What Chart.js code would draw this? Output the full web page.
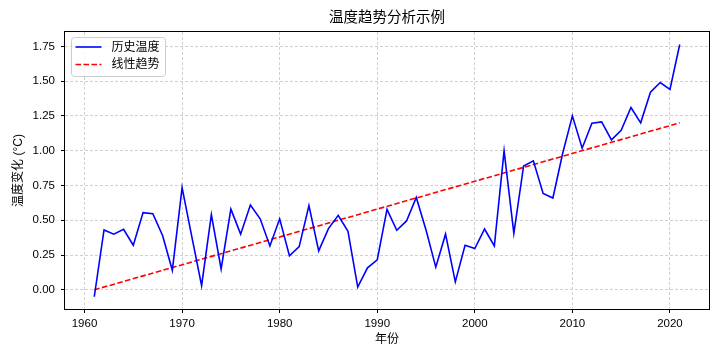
<!DOCTYPE html>
<html>
<head>
<meta charset="utf-8">
<script src="https://cdn.jsdelivr.net/npm/chart.js@4/dist/chart.umd.min.js"></script>
<style>
    html, body { margin: 0; padding: 0; background: #fff; }
    #wrap { width: 720px; height: 360px; }
</style>
</head>
<body>
<div id="wrap"><canvas id="myChart" width="720" height="360"></canvas></div>
<script>
"use strict";

const years = [1961, 1962, 1963, 1964, 1965, 1966, 1967, 1968, 1969, 1970,
    1971, 1972, 1973, 1974, 1975, 1976, 1977, 1978, 1979, 1980,
    1981, 1982, 1983, 1984, 1985, 1986, 1987, 1988, 1989, 1990,
    1991, 1992, 1993, 1994, 1995, 1996, 1997, 1998, 1999, 2000,
    2001, 2002, 2003, 2004, 2005, 2006, 2007, 2008, 2009, 2010,
    2011, 2012, 2013, 2014, 2015, 2016, 2017, 2018, 2019, 2020, 2021];

const temps = [-0.05, 0.43, 0.40, 0.435, 0.32, 0.555, 0.547, 0.39, 0.14, 0.735,
    0.38, 0.03, 0.54, 0.15, 0.58, 0.40, 0.61, 0.51, 0.315, 0.51,
    0.245, 0.31, 0.605, 0.28, 0.44, 0.535, 0.42, 0.02, 0.158, 0.215,
    0.578, 0.428, 0.495, 0.664, 0.43, 0.163, 0.40, 0.057, 0.32, 0.296,
    0.437, 0.315, 0.999, 0.406, 0.89, 0.927, 0.693, 0.66, 0.98, 1.25,
    1.018, 1.197, 1.207, 1.078, 1.147, 1.31, 1.20, 1.42, 1.49, 1.44, 1.763];

const trendYears = [1961, 2021];
const trendValues = [0.00, 1.20];

const xTicks = [1960, 1970, 1980, 1990, 2000, 2010, 2020];
const yTicks = [0, 0.25, 0.5, 0.75, 1.0, 1.25, 1.5, 1.75];

const FONT = '"Liberation Sans", "Noto Sans CJK SC", sans-serif';

function toPoints(xs, ys) {
    let pts = [];
    for (let i = 0; i < xs.length; i++) {
        pts.push({ x: xs[i], y: ys[i] });
    }
    return pts;
}

// frame, title and legend box drawn like matplotlib
const decorPlugin = {
    id: 'decor',
    afterDraw(chart) {
        const ctx = chart.ctx;
        const a = chart.chartArea;
        ctx.save();
        ctx.strokeStyle = '#000';
        ctx.lineWidth = 1;
        ctx.strokeRect(Math.round(a.left) - 0.5, Math.round(a.top) - 0.5,
            Math.round(a.right - a.left) + 1, Math.round(a.bottom - a.top) + 1);

        ctx.fillStyle = '#000';
        ctx.font = '14.5px ' + FONT;
        ctx.textAlign = 'center';
        ctx.textBaseline = 'middle';
        ctx.fillText('温度趋势分析示例', (a.left + a.right) / 2, 18);

        // legend
        const bx = a.left + 6.5, by = a.top + 5.5, bw = 94, bh = 39;
        ctx.beginPath();
        ctx.roundRect(bx, by, bw, bh, 3);
        ctx.fillStyle = 'rgba(255,255,255,0.8)';
        ctx.fill();
        ctx.strokeStyle = '#cccccc';
        ctx.stroke();

        ctx.font = '12px ' + FONT;
        ctx.textAlign = 'left';
        const rows = [by + 9.5, by + 27];
        chart.data.datasets.forEach(function (ds, i) {
            ctx.beginPath();
            ctx.strokeStyle = ds.borderColor;
            ctx.lineWidth = ds.borderWidth;
            ctx.setLineDash(ds.borderDash || []);
            ctx.moveTo(bx + 4, rows[i]);
            ctx.lineTo(bx + 30, rows[i]);
            ctx.stroke();
            ctx.setLineDash([]);
            ctx.fillStyle = '#000';
            ctx.fillText(ds.label, bx + 40, rows[i] + 0.5);
        });
        ctx.restore();
    }
};

const ctx = document.getElementById('myChart').getContext('2d');
const myChart = new Chart(ctx, {
    type: 'line',
    data: {
        datasets: [{
            label: '历史温度',
            data: toPoints(years, temps),
            borderColor: '#0000ff',
            borderWidth: 1.6,
            pointRadius: 0,
            tension: 0,
            fill: false
        },
        {
            label: '线性趋势',
            data: toPoints(trendYears, trendValues),
            borderColor: '#ff0000',
            borderWidth: 1.6,
            borderDash: [5.5, 2.5],
            pointRadius: 0,
            tension: 0,
            fill: false
        }]
    },
    options: {
        responsive: false,
        animation: false,
        layout: { padding: { top: 32, right: 11, left: 0, bottom: 0 } },
        plugins: {
            legend: { display: false },
            title: { display: false },
            tooltip: { enabled: false }
        },
        scales: {
            x: {
                type: 'linear',
                min: 1958,
                max: 2024,
                afterBuildTicks: function (scale) {
                    scale.ticks = xTicks.map(v => ({ value: v }));
                },
                afterFit: function (scale) { scale.height = 51; },
                ticks: {
                    color: '#000',
                    font: { family: FONT, size: 11.5 },
                    padding: 4,
                    maxRotation: 0,
                    callback: v => String(v)
                },
                grid: {
                    color: '#c4c4c4',
                    lineWidth: 0.8,
                    tickColor: '#000',
                    tickLength: 4,
                    tickWidth: 1
                },
                border: { display: false, dash: [3, 2] },
                title: {
                    display: true,
                    text: '年份',
                    color: '#000',
                    font: { family: FONT, size: 12 },
                    padding: { top: 0, bottom: 13 }
                }
            },
            y: {
                type: 'linear',
                min: -0.138,
                max: 1.853,
                afterBuildTicks: function (scale) {
                    scale.ticks = yTicks.map(v => ({ value: v }));
                },
                afterFit: function (scale) { scale.width = 65; },
                ticks: {
                    color: '#000',
                    font: { family: FONT, size: 11.5 },
                    padding: 6,
                    callback: v => Number(v).toFixed(2)
                },
                grid: {
                    color: '#c4c4c4',
                    lineWidth: 0.8,
                    tickColor: '#000',
                    tickLength: 4,
                    tickWidth: 1
                },
                border: { display: false, dash: [3, 2] },
                title: {
                    display: true,
                    text: '温度变化 (°C)',
                    color: '#000',
                    font: { family: FONT, size: 12 },
                    padding: { top: 11, bottom: 0 }
                }
            }
        }
    },
    plugins: [decorPlugin]
});
</script>
</body>
</html>
